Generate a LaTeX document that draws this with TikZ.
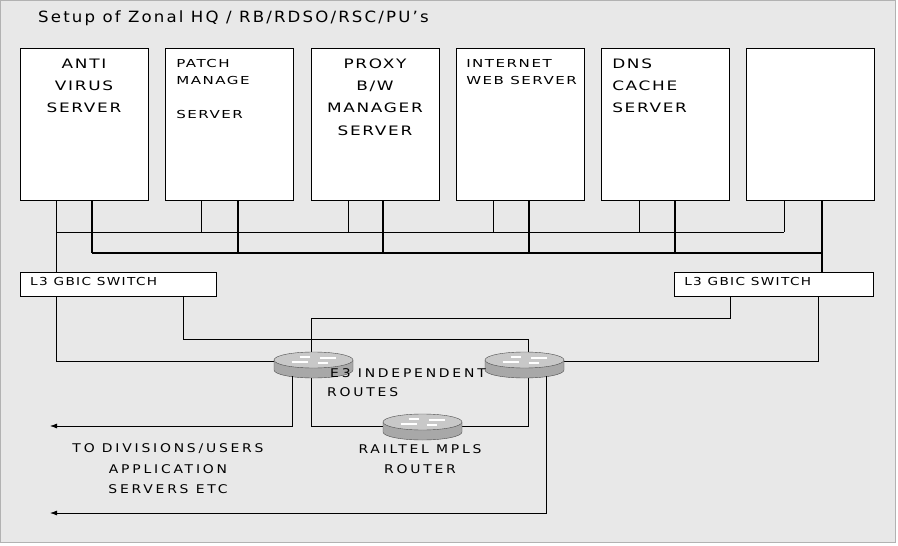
\documentclass[tikz,border=0pt]{standalone}
\usepackage{fontspec}
\setmainfont{DejaVu Sans}
\newfontfamily\wa{DejaVu Sans}[LetterSpace=10]
\newfontfamily\wb{DejaVu Sans}[LetterSpace=20]
\newfontfamily\wt{DejaVu Sans}[LetterSpace=13]
\usetikzlibrary{arrows.meta}
\definecolor{bg}{HTML}{E8E8E8}
\definecolor{rtop}{HTML}{C8C8C8}
\definecolor{rside}{HTML}{A8A8A8}
\begin{document}
\begin{tikzpicture}[x=1pt,y=-1pt,
  box/.style={draw,fill=white,line width=0.8pt},
  lbl/.style={inner sep=0pt,font=\wa\fontsize{13}{15}\selectfont,xscale=1.3,transform shape},
  sml/.style={inner sep=0pt,font=\wa\fontsize{11}{13}\selectfont,xscale=1.37,transform shape},
  swl/.style={inner sep=0pt,font=\wa\fontsize{11}{13}\selectfont,xscale=1.24,transform shape},
  low/.style={inner sep=0pt,font=\wb\fontsize{12}{14}\selectfont,xscale=1.16,transform shape},
  thin/.style={line width=0.8pt},
  thick/.style={line width=2.2pt},
  arr/.style={line width=0.8pt,-{Latex[length=7pt,width=5pt]}}]
\useasboundingbox (0,0) rectangle (898,546);
\fill[bg] (0,0) rectangle (895,542);
\draw[gray!60] (0,0) rectangle (895,542);
\newcommand\router[3]{% name, center x, top y
  \begin{scope}[shift={(#2,#3)}]
  \fill[rside,draw=gray!60!black,line width=0.4pt] (-39.5,8) -- (-39.5,18) arc[start angle=180,end angle=0,x radius=39.5,y radius=8] -- (39.5,8) -- cycle;
  \fill[rtop,draw=gray!60!black,line width=0.4pt] (0,8) ellipse[x radius=39.5,y radius=8];
  \draw[white,line width=1.2pt] (-22,10) -- (-6,10) (6,6) -- (22,6) (-14,5) -- (-4,5) (4,11) -- (14,11);
  \end{scope}
  \coordinate (#1) at (#2,#3);}
\node[inner sep=0pt,anchor=west,font=\wt\fontsize{15.5}{17}\selectfont,xscale=1.07,transform shape] (title) at (38,18) {Setup of Zonal HQ / RB/RDSO/RSC/PU’s};
% servers
\foreach \n/\x in {s1/20,s2/165,s3/311,s4/456,s5/601,s6/746}
  \draw[box] (\x,48) rectangle ++(128,152) coordinate (\n);
\node[lbl] (t1a) at (84,64) {ANTI};
\node[lbl] (t1b) at (84,86) {VIRUS};
\node[lbl] (t1c) at (84,108) {SERVER};
\node[sml,anchor=west] (t2a) at (176,63) {PATCH};
\node[sml,anchor=west] (t2b) at (176,80) {MANAGE};
\node[sml,anchor=west] (t2c) at (176,114) {SERVER};
\node[lbl] (t3a) at (375,64) {PROXY};
\node[lbl] (t3b) at (375,86) {B/W};
\node[lbl] (t3c) at (375,108) {MANAGER};
\node[lbl] (t3d) at (375,131) {SERVER};
\node[sml,anchor=west] (t4a) at (466,63) {INTERNET};
\node[sml,anchor=west] (t4b) at (466,80) {WEB SERVER};
\node[lbl,anchor=west] (t5a) at (612,64) {DNS};
\node[lbl,anchor=west] (t5b) at (612,86) {CACHE};
\node[lbl,anchor=west] (t5c) at (612,108) {SERVER};
% buses
\foreach \x in {201,348,493,639,784} \draw[thin] (\x,200) -- (\x,232);
\draw[thin] (56,232) -- (784,232);
\foreach \x in {92,238,383,529,675} \draw[thick] (\x,200) -- (\x,253);
\draw[thick] (822,200) -- (822,272);
\draw[thick] (92,253) -- (822,253);
\draw[thin] (56,200) -- (56,272);
% switches
\draw[box] (20,272) rectangle (216,296);
\node[swl,anchor=west] (sw1) at (30,281) {L3 GBIC SWITCH};
\draw[box] (674,272) rectangle (873,296);
\node[swl,anchor=west] (sw2) at (684,281) {L3 GBIC SWITCH};
% links
\draw[thin] (56,296) -- (56,361) -- (276,361);
\draw[thin] (183,296) -- (183,339) -- (528,339) -- (528,426) -- (460,426);
\draw[thin] (730,296) -- (730,318) -- (311,318) -- (311,426) -- (385,426);
\draw[thin] (818,296) -- (818,361) -- (560,361);
\router{r1}{313.5}{352}
\router{r2}{524.5}{352}
\router{r3}{422.5}{414}
\draw[arr] (292,376) -- (292,426) -- (50,426);
\draw[arr] (546,376) -- (546,513) -- (50,513);
\node[low,anchor=west] (e3a) at (330,373) {E3 INDEPENDENT};
\node[low,anchor=west] (e3b) at (327,392) {ROUTES};
\node[low] (m1) at (420,449) {RAILTEL MPLS};
\node[low] (m2) at (420,469) {ROUTER};
\node[low] (d1) at (168,449) {TO DIVISIONS/USERS};
\node[low] (d2) at (168,469) {APPLICATION};
\node[low] (d3) at (168,489) {SERVERS ETC};
\end{tikzpicture}
\end{document}
